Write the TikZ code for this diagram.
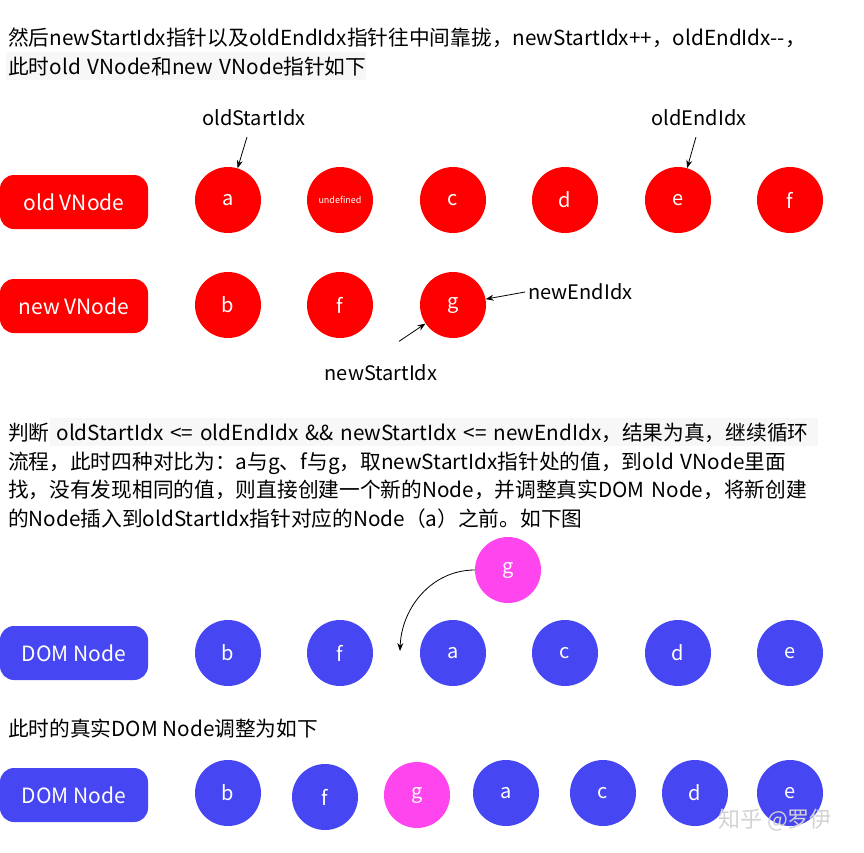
\documentclass[tikz,border=0pt]{standalone}
\usepackage{fontspec}
\setmainfont{Noto Sans CJK SC}
\usetikzlibrary{arrows.meta}
\definecolor{vred}{HTML}{FF0000}
\definecolor{vblue}{HTML}{4646F2}
\definecolor{vpink}{HTML}{FF45EE}
\tikzset{
	ball/.style={circle,minimum size=66pt,inner sep=0pt,text=white,font=\fontsize{20}{20}\selectfont},
	tag/.style={rounded corners=14pt,minimum width=148pt,minimum height=54pt,text=white,font=\fontsize{21}{21}\selectfont},
	ptr/.style={-{Stealth[length=8pt,width=6pt]},line width=.8pt},
	para/.style={anchor=west,font=\fontsize{20.7}{28.5}\selectfont,align=left}
}
\begin{document}
\begin{tikzpicture}[x=1pt,y=-1pt]
		\useasboundingbox(0,0)rectangle(864,852);
		% text
		\fill[gray!6](6,52)rectangle(366,80);
		\node[para,text width=850pt,inner sep=0pt](t1)at(8,52){然后newStartIdx指针以及oldEndIdx指针往中间靠拢，newStartIdx++，oldEndIdx{-}{-}，\\此时old VNode和new VNode指针如下};
		\fill[gray!6](50,418)rectangle(818,446);
		\node[para,text width=850pt,inner sep=0pt](t2)at(8,476){判断 oldStartIdx <= oldEndIdx \&\& newStartIdx <= newEndIdx，结果为真，继续循环\\流程，此时四种对比为：a与g、f与g，取newStartIdx指针处的值，到old VNode里面\\找，没有发现相同的值，则直接创建一个新的Node，并调整真实DOM Node，将新创建\\的Node插入到oldStartIdx指针对应的Node（a）之前。如下图};
		\node[para,inner sep=0pt](t3)at(8,729){此时的真实DOM Node调整为如下};
		% old / new vnode
		\node[tag,fill=vred](oldv)at(74,202){old VNode};
		\node[tag,fill=vred](newv)at(74,306){new VNode};
		\foreach\n/\x/\t in{oa/228/a,ou/340/{\fontsize{9}{9}\selectfont undefined},oc/453/c,od/565/d,oe/678/e,of/790/f}
			{\node[ball,fill=vred](\n)at(\x,200){\t};}
		\foreach\n/\x/\t in{nb/228/b,nf/340/f,ng/453/g}
			{\node[ball,fill=vred](\n)at(\x,305){\t};}
		\node[font=\fontsize{20}{20}\selectfont](os)at(254,118){oldStartIdx};
		\node[font=\fontsize{20}{20}\selectfont](oe2)at(699,118){oldEndIdx};
		\node[font=\fontsize{20}{20}\selectfont,anchor=west](ne)at(525,292){newEndIdx};
		\node[font=\fontsize{20}{20}\selectfont](ns)at(381,373){newStartIdx};
		\draw[ptr](247,137)--(oa);
		\draw[ptr](696,137)--(oe);
		\draw[ptr](ne.west)--(ng);
		\draw[ptr](ns.north)++(18,-20)coordinate(nsp)--(ng);
		% dom node
		\node[tag,fill=vblue](dom1)at(74,653){DOM Node};
		\foreach\n/\x/\t in{db/228/b,df/340/f,da/453/a,dc/565/c,dd/678/d,de/790/e}
			{\node[ball,fill=vblue](\n)at(\x,653){\t};}
		\node[ball,fill=vpink](gn)at(508,570){g};
		\coordinate(ins)at(400,651);
		\draw[ptr](gn.west)to[out=180,in=88](ins);
		% adjusted
		\node[tag,fill=vblue](dom2)at(74,795){DOM Node};
		\foreach\n/\x/\y/\t/\c in{eb/228/793/b/vblue,ef/325/797/f/vblue,eg/417/795/g/vpink,ea/506/793/a/vblue,ec/603/793/c/vblue,ed/695/793/d/vblue,ee/790/793/e/vblue}
			{\node[ball,fill=\c](\n)at(\x,\y){\t};}
		\node[text=gray!35,font=\fontsize{22}{22}\selectfont](wm)at(775,820){知乎 @罗伊};
\end{tikzpicture}
\end{document}
